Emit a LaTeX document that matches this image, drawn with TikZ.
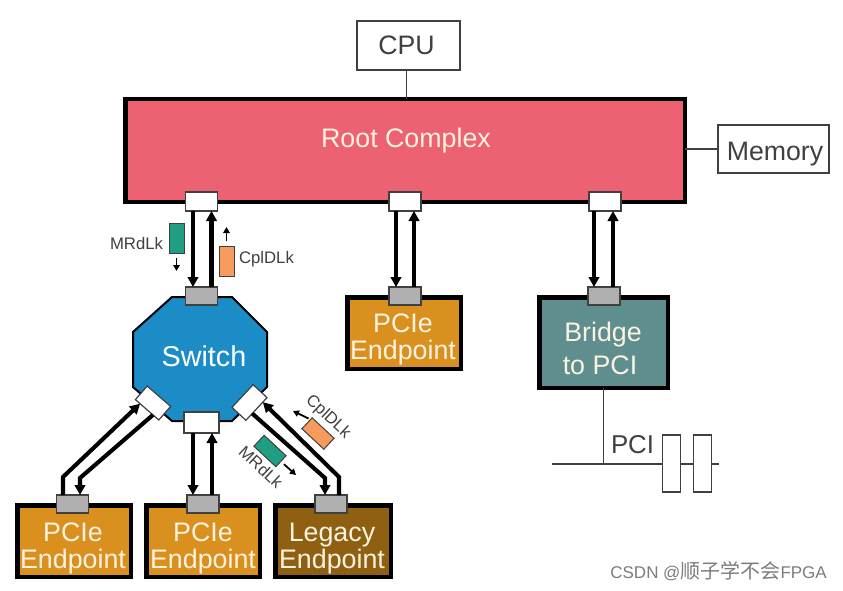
\documentclass[tikz,border=0pt]{standalone}
\usepackage{fontspec}
\setmainfont{Liberation Sans}
\newfontfamily\cjkfont{Noto Sans CJK SC}
\usetikzlibrary{arrows.meta,calc}
\definecolor{rootred}{HTML}{EC6272}
\definecolor{gold}{HTML}{D9901F}
\definecolor{legacy}{HTML}{8F5F12}
\definecolor{teal}{HTML}{5F8E8F}
\definecolor{swblue}{HTML}{1B8CC6}
\definecolor{txtcream}{HTML}{FBF3E0}
\definecolor{labgray}{HTML}{404040}
\definecolor{mgreen}{HTML}{1F9E82}
\definecolor{corange}{HTML}{F79A5E}
\definecolor{portgray}{HTML}{B0B0B0}
\definecolor{wmgray}{HTML}{7C7C7C}
\tikzset{
  fs/.style={font=\fontsize{#1}{#1}\selectfont},
  whitebox/.style={draw=labgray,fill=white,line width=1.6pt,inner sep=0pt,outer sep=0pt},
  block/.style={draw=black,line width=4.5pt,inner sep=0pt,outer sep=0pt},
  blocktext/.style={text=txtcream,fs=26.8,inner sep=0pt,anchor=base},
  boxtext/.style={text=labgray,fs=26.7,inner sep=0pt,anchor=base},
  wport/.style={draw=labgray,fill=white,line width=1.2pt,minimum width=32pt,minimum height=19pt,inner sep=0pt,outer sep=0pt},
  gport/.style={draw=labgray,fill=portgray,line width=1.2pt,minimum width=32pt,minimum height=18pt,inner sep=0pt,outer sep=0pt},
  link/.style={draw=black,line width=4.1pt,miter limit=10,-{Triangle[length=10pt,width=10.5pt]}},
  tiny/.style={draw=black,line width=1.8pt,-{Triangle[length=6pt,width=6.5pt]}},
  tag/.style={draw=labgray,line width=1pt,minimum width=15pt,minimum height=30pt,inner sep=0pt,outer sep=0pt},
  tagd/.style={draw=labgray,line width=1pt,minimum width=30pt,minimum height=15pt,inner sep=0pt,outer sep=0pt},
  lab/.style={text=labgray,fs=16.7,inner sep=0pt},
  thinline/.style={draw=labgray,line width=1.8pt},
  slot/.style={draw=labgray,fill=white,line width=1.2pt,minimum width=18.5pt,minimum height=57pt,inner sep=0pt,outer sep=0pt}
}
\begin{document}
\begin{tikzpicture}[x=1pt,y=-1pt]
\useasboundingbox (0,0) rectangle (843,591);
\fill[white] (0,0) rectangle (843,591);

% main blocks
\node[whitebox,minimum width=103.5pt,minimum height=49.5pt] (cpu) at (408.5,45.5) {};
\node[boxtext] (cput) at (406.5,55) {CPU};
\node[whitebox,minimum width=110.5pt,minimum height=48.5pt] (mem) at (773.5,149) {};
\node[boxtext] (memt) at (775,160.5) {Memory};
\node[block,fill=rootred,minimum width=559.5pt,minimum height=102.5pt] (root) at (405,150.5) {};
\node[blocktext] (roott) at (406,147) {Root Complex};
\draw[thinline] ([xshift=-2pt]cpu.south) -- ([xshift=-2pt]cpu.south |- root.north);
\draw[thinline] (mem.west) -- (root.east |- mem.west);

\node[block,fill=gold,minimum width=113.5pt,minimum height=71.5pt] (epm) at (404,333) {};
\node[block,fill=teal,minimum width=128.5pt,minimum height=90.5pt] (bridge) at (603.5,342.5) {};
\node[block,fill=gold,minimum width=113.5pt,minimum height=71.5pt] (ep1) at (74,541) {};
\node[block,fill=gold,minimum width=113.5pt,minimum height=71.5pt] (ep2) at (203,541) {};
\node[block,fill=legacy,minimum width=115.5pt,minimum height=71.5pt] (ep3) at (333,541) {};
\node[blocktext] (epmt1) at (403,332) {PCIe};
\node[blocktext] (epmt2) at (403,359) {Endpoint};
\node[blocktext] (brt1) at (603,341) {Bridge};
\node[blocktext] (brt2) at (600,374) {to PCI};
\node[blocktext] (e1a) at (73,541.5) {PCIe};
\node[blocktext] (e1b) at (73,568.5) {Endpoint};
\node[blocktext] (e2a) at (203,541.5) {PCIe};
\node[blocktext] (e2b) at (203,568.5) {Endpoint};
\node[blocktext] (e3a) at (332,541.5) {Legacy};
\node[blocktext] (e3b) at (332,568.5) {Endpoint};

% switch
\draw[black,line width=2pt,fill=swblue,line join=round]
  (172,297) -- (232,297) -- (267,332) -- (267,387) -- (232,421) -- (172,421) -- (133,387) -- (133,332) -- cycle;
\node[text=white,fs=28.7,inner sep=0pt,anchor=base] (sw) at (204,366) {Switch};

% ports
\node[wport] (rp1) at (201.5,201.5) {};
\node[wport] (rp2) at (405,201.5) {};
\node[wport] (rp3) at (605,201.5) {};
\node[gport] (swu) at (201.5,296) {};
\node[gport] (epu) at (405,296) {};
\node[gport] (bru) at (604,296) {};
\node[wport,minimum width=35pt,minimum height=21pt] (swb) at (201.5,422.5) {};
\node[wport,minimum width=31pt,minimum height=18pt,rotate=-41] (swl) at (153,403) {};
\node[wport,minimum width=31pt,minimum height=19pt,rotate=47] (swr) at (249.5,402.5) {};
\node[gport] (p1) at (72.5,504) {};
\node[gport] (p2) at (203,504) {};
\node[gport] (p3) at (331,504) {};

% bends
\coordinate (b1a) at (63,477);
\coordinate (b1b) at (80,478);
\coordinate (b3a) at (325,478);
\coordinate (b3b) at (339,477);

% links
\draw[link] ([xshift=-8.5pt]rp1.south) -- ([xshift=-8.5pt]swu.north);
\draw[link] ([xshift=10pt]swu.north) -- ([xshift=10pt]rp1.south);
\draw[link] ([xshift=-9pt]rp2.south) -- ([xshift=-9pt]epu.north);
\draw[link] ([xshift=9pt]epu.north) -- ([xshift=9pt]rp2.south);
\draw[link] ([xshift=-11pt]rp3.south) -- ([xshift=-10pt]bru.north);
\draw[link] ([xshift=9pt]bru.north) -- ([xshift=8pt]rp3.south);
\draw[link] ([xshift=-8.5pt]swb.south) -- ([xshift=-10pt]p2.north);
\draw[link] ([xshift=9pt]p2.north) -- ([xshift=10.5pt]swb.south);
\draw[link] (p1.north -| b1a) -- (b1a) -- ($(swl.south west)!.2!(swl.south east)$);
\draw[link] ($(swl.south west)!.75!(swl.south east)$) -- (b1b) -- (p1.north -| b1b);
\draw[link] ($(swr.south west)!.3!(swr.south east)$) -- (b3a) -- (p3.north -| b3a);
\draw[link] (p3.north -| b3b) -- (b3b) -- ($(swr.south west)!.8!(swr.south east)$);

% PCI bus
\coordinate (busl) at (552,464);
\coordinate (busr) at (719,464);
\coordinate (busj) at (603.5,464);
\draw[thinline] (bridge.south) -- (busj);
\draw[thinline] (busl) -- (busr);
\node[slot] (s1) at (671.5,463.5) {};
\node[slot] (s2) at (702.5,463.5) {};
\node[text=labgray,fs=25.8,inner sep=0pt,anchor=base] (pcit) at (632.5,453) {PCI};

% TLP tags
\node[tag,fill=mgreen] (g1) at (176.5,238) {};
\node[tag,fill=corange] (o1) at (226.5,261) {};
\node[lab,anchor=base] (mr1) at (136.5,249) {MRdLk};
\node[lab,anchor=base] (cp1) at (266.5,263) {CplDLk};
\draw[tiny] ([yshift=-5pt]g1.south) -- ++(0,13);
\draw[tiny] ([yshift=5pt]o1.north) -- ++(0,-14);

\node[tagd,fill=corange,rotate=-43] (o2) at (318,433.5) {};
\node[tagd,fill=mgreen,rotate=-43] (g2) at (270,451) {};
\node[lab,rotate=-43] (cp2) at (328,417) {CplDLk};
\node[lab,rotate=-43] (mr2) at (261,467) {MRdLk};
\coordinate (a2) at (293,411);
\coordinate (a3) at (296,475);
\draw[tiny] ($(o2.north west)!.5!(o2.west)$) ++(-1,-2) -- (a2);
\draw[tiny] (g2.east) ++(3,3) -- (a3);

% watermark
\node[text=wmgray,anchor=base east,inner sep=0pt,fs=17] (wm) at (827,578) {CSDN @{\cjkfont\fontsize{20}{20}\selectfont 顺子学不会}FPGA};
\end{tikzpicture}
\end{document}
